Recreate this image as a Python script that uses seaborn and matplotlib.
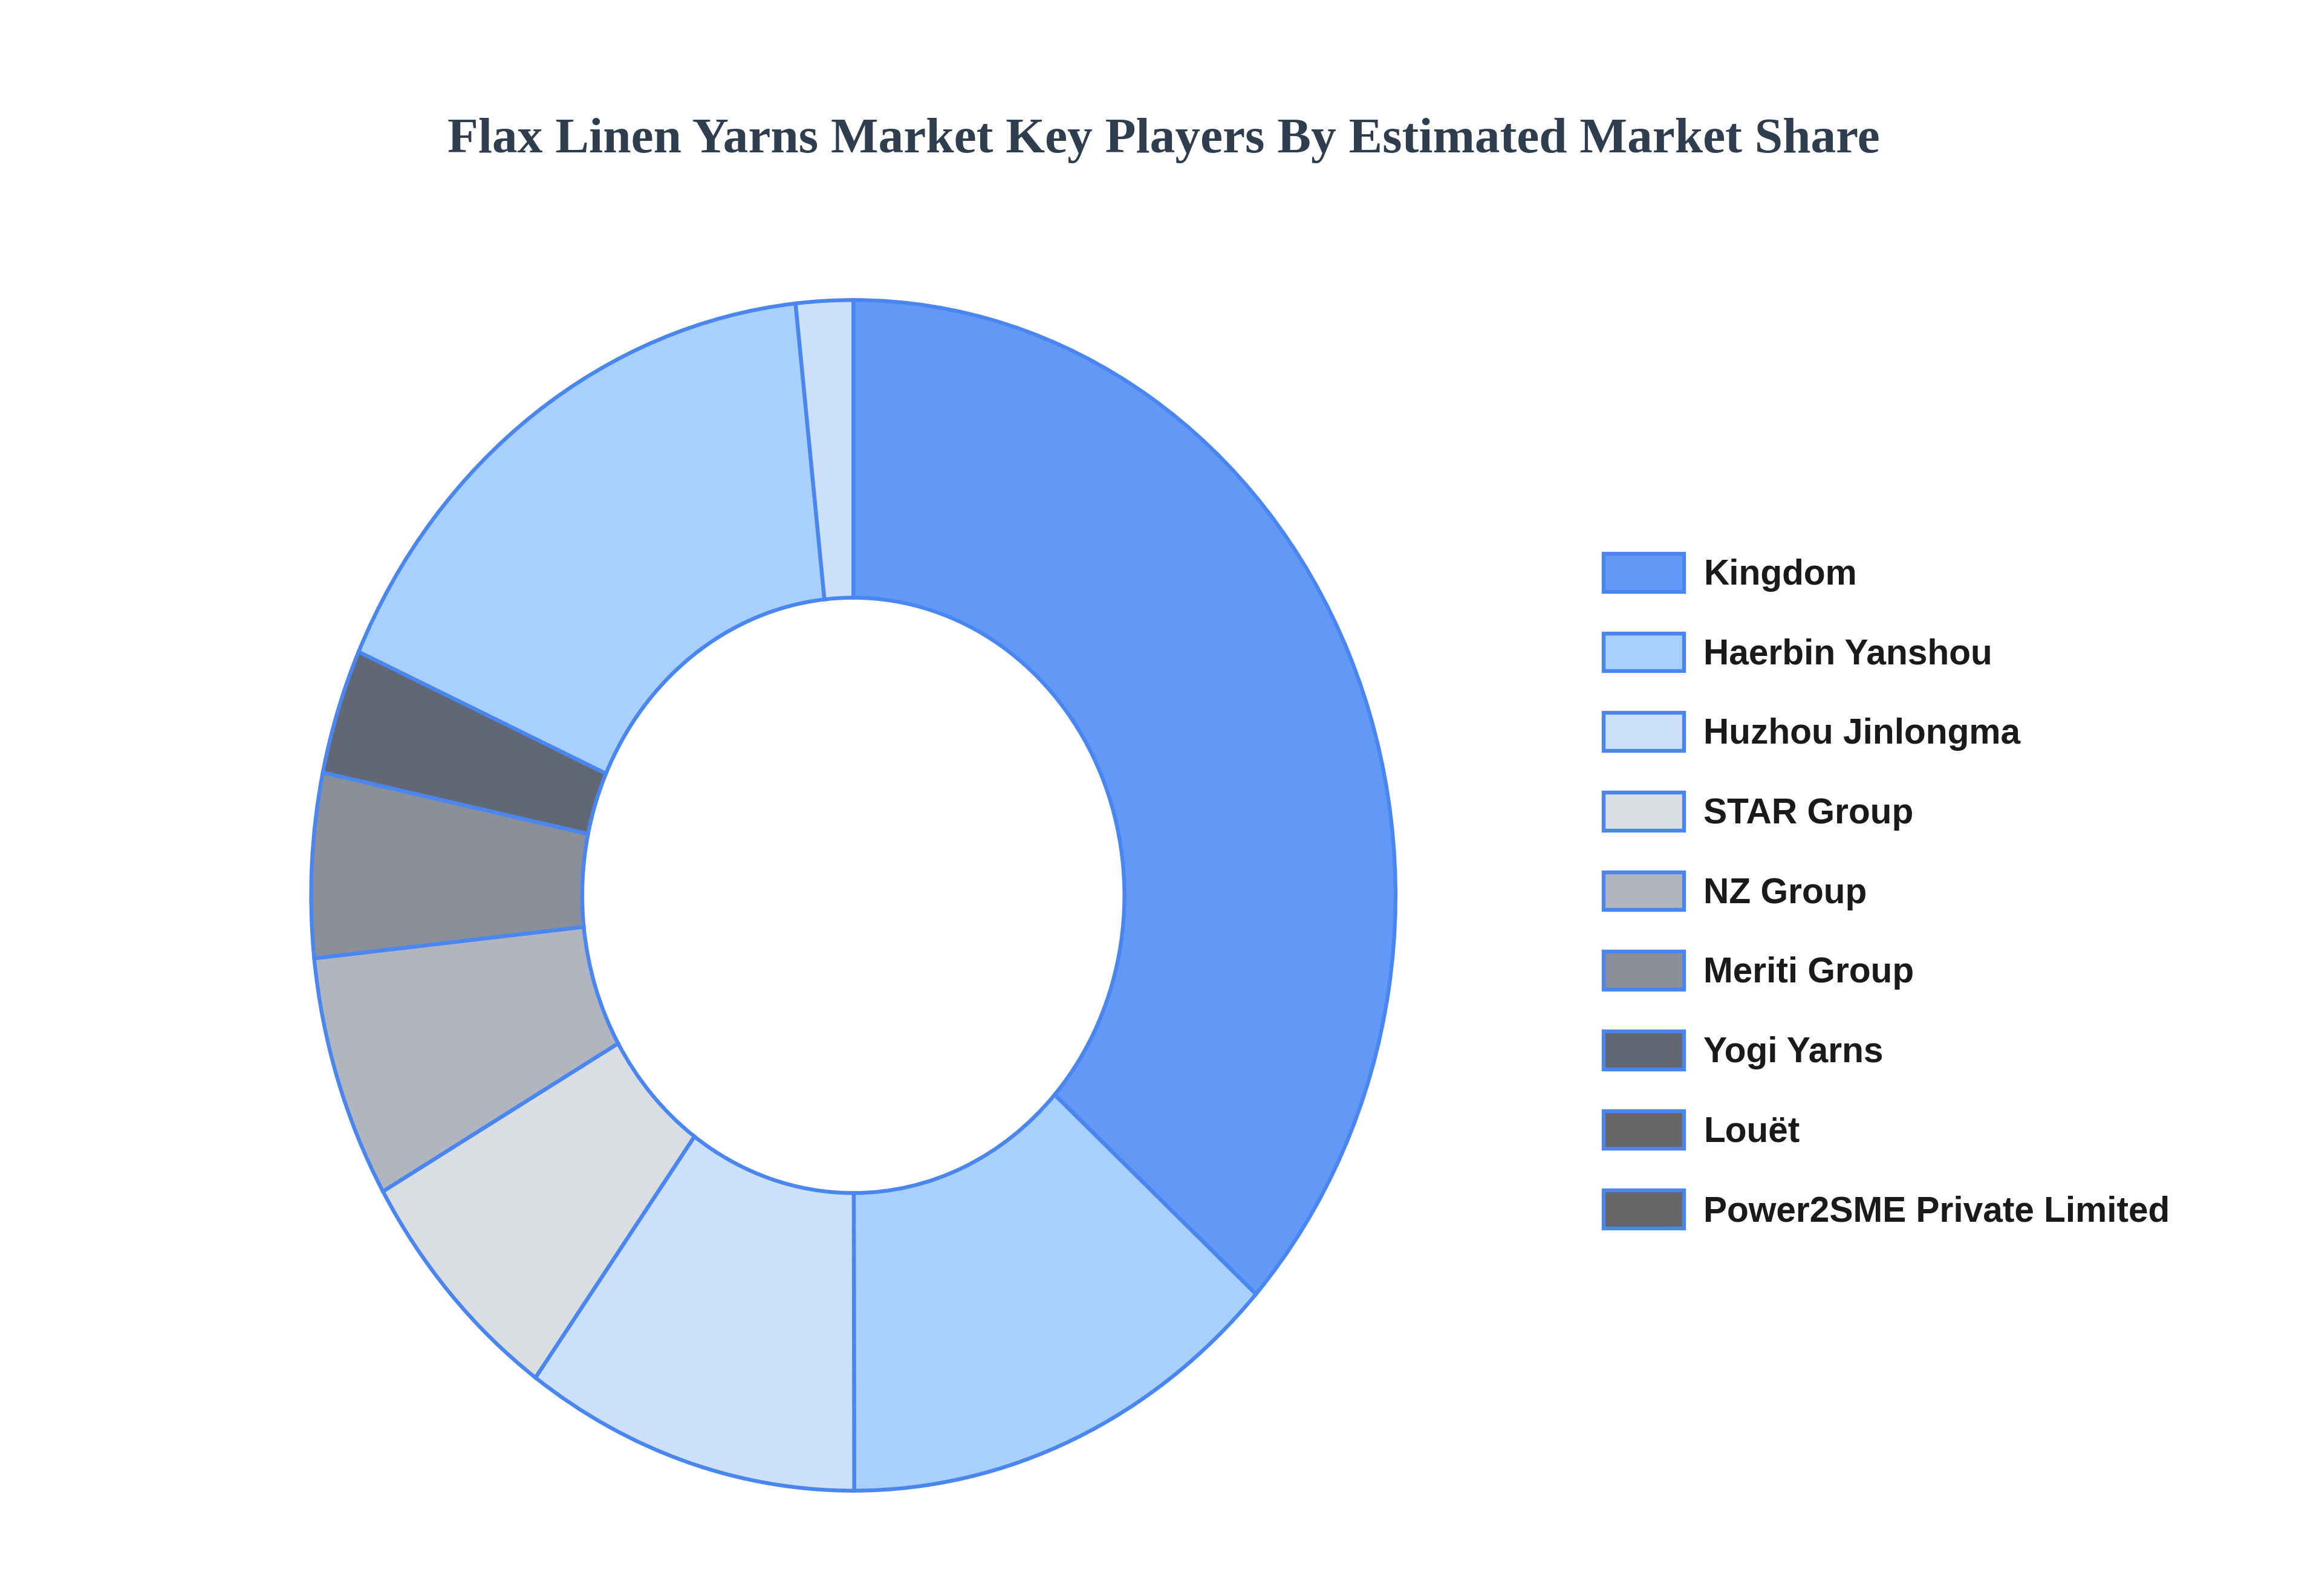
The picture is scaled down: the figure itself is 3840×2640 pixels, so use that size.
import matplotlib
matplotlib.use("Agg")
from matplotlib import pyplot as plt
from matplotlib.patches import Patch
import seaborn as sns

# data (percent of market)
players = ['Kingdom', 'Haerbin Yanshou', 'Huzhou Jinlongma', 'STAR Group', 'NZ Group',
           'Meriti Group', 'Yogi Yarns', 'Louët', 'Power2SME Private Limited']
shares = [36.7, 13.3, 10.0, 6.75, 6.6, 5.0, 3.4, 16.6, 1.7]

palette = ['#6399f6', '#a8d0fb', '#cce0fa', '#dadde2', '#b0b5c0', '#8a8f9a', '#616874']
# in the pie the last two slices reuse the light blues, the legend shows them gray
slice_colors = palette + [palette[1], palette[2]]
legend_colors = palette + ['#666666', '#666666']
edge = '#4a86f0'

sns.set_theme(style="white")

fig = plt.figure(figsize=(16, 11), dpi=240)
ax = fig.add_axes([0.134, 0.066, 0.467, 0.746])

ax.pie(shares, colors=slice_colors, startangle=90, counterclock=False, radius=1.0,
       wedgeprops=dict(width=0.5, edgecolor=edge, linewidth=1.9))
ax.set_aspect('auto')
ax.set_xlim(-1.0, 1.0)
ax.set_ylim(-1.0, 1.0)
ax.axis('off')

fig.text(0.501, 0.912, 'Flax Linen Yarns Market Key Players By Estimated Market Share',
         ha='center', va='center', fontsize=25, fontweight='bold',
         family=['Liberation Serif', 'DejaVu Serif'], color='#2f3e4e')

handles = [Patch(facecolor=c, edgecolor=edge, linewidth=1.9) for c in legend_colors]
leg = fig.legend(handles, players, loc='upper left', bbox_to_anchor=(0.6907, 0.653),
                 frameon=False, borderpad=0, borderaxespad=0,
                 handlelength=2.27, handleheight=1.265, handletextpad=0.54,
                 labelspacing=1.17,
                 prop=dict(family=['Liberation Sans', 'DejaVu Sans'], weight='bold', size=17.6))
for t in leg.get_texts():
    t.set_color('#1a1a1a')

fig.savefig('out.png', dpi=240, facecolor='white')
